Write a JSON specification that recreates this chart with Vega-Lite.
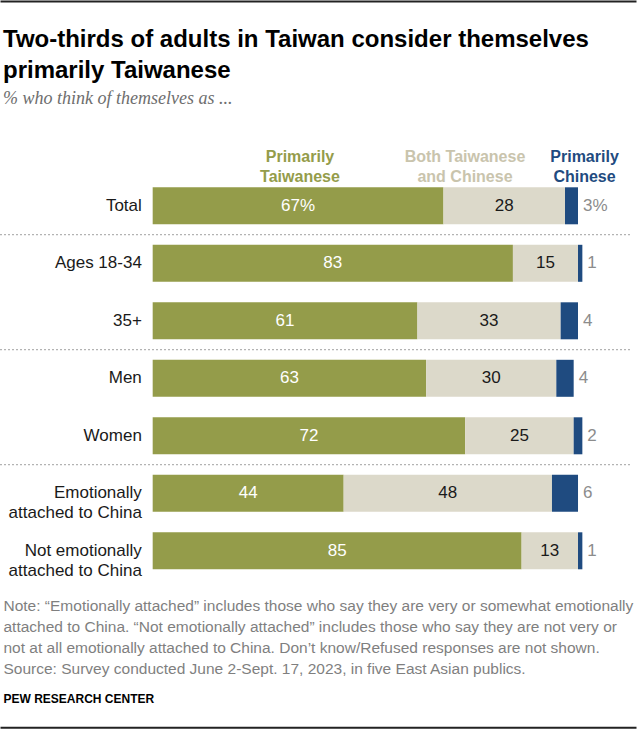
{
  "$schema": "https://vega.github.io/schema/vega-lite/v6.json",
  "width": 636,
  "height": 439.5,
  "autosize": "none",
  "padding": {"left": 0, "top": 129.8, "right": 4, "bottom": 161.7},
  "background": "white",
  "config": {"view": {"stroke": null}, "text": {"font": "Liberation Sans"}},
  "datasets": {
    "bars": [
      {"group": "Total", "cat": "Primarily Taiwanese", "value": 67, "label": "67%"},
      {"group": "Total", "cat": "Both Taiwanese and Chinese", "value": 28, "label": "28"},
      {"group": "Total", "cat": "Primarily Chinese", "value": 3, "label": "3%"},
      {"group": "Ages 18-34", "cat": "Primarily Taiwanese", "value": 83, "label": "83"},
      {"group": "Ages 18-34", "cat": "Both Taiwanese and Chinese", "value": 15, "label": "15"},
      {"group": "Ages 18-34", "cat": "Primarily Chinese", "value": 1, "label": "1"},
      {"group": "35+", "cat": "Primarily Taiwanese", "value": 61, "label": "61"},
      {"group": "35+", "cat": "Both Taiwanese and Chinese", "value": 33, "label": "33"},
      {"group": "35+", "cat": "Primarily Chinese", "value": 4, "label": "4"},
      {"group": "Men", "cat": "Primarily Taiwanese", "value": 63, "label": "63"},
      {"group": "Men", "cat": "Both Taiwanese and Chinese", "value": 30, "label": "30"},
      {"group": "Men", "cat": "Primarily Chinese", "value": 4, "label": "4"},
      {"group": "Women", "cat": "Primarily Taiwanese", "value": 72, "label": "72"},
      {"group": "Women", "cat": "Both Taiwanese and Chinese", "value": 25, "label": "25"},
      {"group": "Women", "cat": "Primarily Chinese", "value": 2, "label": "2"},
      {"group": "Emotionally attached to China", "cat": "Primarily Taiwanese", "value": 44, "label": "44"},
      {"group": "Emotionally attached to China", "cat": "Both Taiwanese and Chinese", "value": 48, "label": "48"},
      {"group": "Emotionally attached to China", "cat": "Primarily Chinese", "value": 6, "label": "6"},
      {"group": "Not emotionally attached to China", "cat": "Primarily Taiwanese", "value": 85, "label": "85"},
      {"group": "Not emotionally attached to China", "cat": "Both Taiwanese and Chinese", "value": 13, "label": "13"},
      {"group": "Not emotionally attached to China", "cat": "Primarily Chinese", "value": 1, "label": "1"}
    ],
    "rows": [
      {"group": "Total", "label": "Total"},
      {"group": "Ages 18-34", "label": "Ages 18-34"},
      {"group": "35+", "label": "35+"},
      {"group": "Men", "label": "Men"},
      {"group": "Women", "label": "Women"},
      {"group": "Emotionally attached to China", "label": "Emotionally\nattached to China"},
      {"group": "Not emotionally attached to China", "label": "Not emotionally\nattached to China"}
    ],
    "seps": [
      {"after": "Ages 18-34"},
      {"after": "Men"},
      {"after": "Emotionally attached to China"}
    ]
  },
  "title": {
    "text": ["Two-thirds of adults in Taiwan consider themselves", "primarily Taiwanese"],
    "subtitle": "% who think of themselves as ...",
    "anchor": "start",
    "frame": "group",
    "dx": 3,
    "offset": -107,
    "font": "Liberation Sans",
    "fontSize": 24,
    "fontWeight": "bold",
    "color": "#000000",
    "lineHeight": 31,
    "subtitleFont": "Liberation Serif",
    "subtitleFontStyle": "italic",
    "subtitleFontSize": 18,
    "subtitleColor": "#6e6e6e",
    "subtitlePadding": 7
  },
  "layer": [
    {
      "data": {"name": "bars"},
      "transform": [{"window": [{"op": "row_number", "as": "rank"}], "groupby": ["group"]}],
      "layer": [
        {
          "mark": {"type": "bar"},
          "encoding": {
            "x": {
              "field": "value", "type": "quantitative", "stack": "zero",
              "scale": {"domain": [-35.18, 111.36], "nice": false, "zero": false},
              "axis": {
                "orient": "bottom", "offset": 158, "domain": true, "domainColor": "#222222", "domainWidth": 2,
                "ticks": false, "labels": false, "grid": false,
                "title": [
                  "Note: “Emotionally attached” includes those who say they are very or somewhat emotionally",
                  "attached to China. “Not emotionally attached” includes those who say they are not very or",
                  "not at all emotionally attached to China. Don’t know/Refused responses are not shown.",
                  "Source: Survey conducted June 2-Sept. 17, 2023, in five East Asian publics."
                ],
                "titleX": 3, "titleY": -116.6, "titleAlign": "left", "titleAnchor": "start",
                "titleBaseline": "alphabetic", "titleFont": "Liberation Sans", "titleFontSize": 15.5,
                "titleFontWeight": "normal", "titleColor": "#7f7f7f", "titleLineHeight": 20.8
              }
            },
            "y": {
              "field": "group", "type": "nominal",
              "scale": {"domain": ["hdr", "Total", "Ages 18-34", "35+", "Men", "Women", "Emotionally attached to China", "Not emotionally attached to China"], "paddingInner": 0.3565, "paddingOuter": 0},
              "axis": {
                "orient": "left", "domain": false, "ticks": false, "labels": false, "grid": false,
                "title": "PEW RESEARCH CENTER", "titleAngle": 0, "titleAlign": "left", "titleBaseline": "alphabetic",
                "titleX": 3, "titleY": 572.2, "titleFont": "Liberation Sans", "titleFontSize": 12,
                "titleFontWeight": "bold", "titleColor": "#000000"
              }
            },
            "color": {
              "field": "cat", "type": "nominal",
              "scale": {"domain": ["Primarily Taiwanese", "Both Taiwanese and Chinese", "Primarily Chinese"], "range": ["#949c4a", "#dcd9ca", "#1f4b80"]},
              "legend": null
            },
            "order": {"field": "rank", "type": "quantitative"}
          }
        },
        {
          "mark": {"type": "text", "fontSize": 17, "baseline": "middle", "align": "center"},
          "encoding": {
            "x": {"field": "value", "type": "quantitative", "stack": "zero", "bandPosition": 0.5, "scale": {"domain": [-35.18, 111.36], "nice": false, "zero": false}},
            "y": {"field": "group", "type": "nominal", "scale": {"domain": ["hdr", "Total", "Ages 18-34", "35+", "Men", "Women", "Emotionally attached to China", "Not emotionally attached to China"], "paddingInner": 0.3565, "paddingOuter": 0}},
            "detail": {"field": "cat"},
            "order": {"field": "rank", "type": "quantitative"},
            "text": {"field": "label"},
            "color": {"condition": {"test": "datum.cat === 'Primarily Taiwanese'", "value": "#ffffff"}, "value": "#1a1a1a"},
            "opacity": {"condition": {"test": "datum.cat === 'Primarily Chinese'", "value": 0}, "value": 1}
          }
        },
        {
          "mark": {"type": "text", "fontSize": 17, "baseline": "middle", "align": "left", "dx": 5, "color": "#8c8c8c"},
          "encoding": {
            "x": {"field": "value", "type": "quantitative", "stack": "zero", "scale": {"domain": [-35.18, 111.36], "nice": false, "zero": false}},
            "y": {"field": "group", "type": "nominal", "scale": {"domain": ["hdr", "Total", "Ages 18-34", "35+", "Men", "Women", "Emotionally attached to China", "Not emotionally attached to China"], "paddingInner": 0.3565, "paddingOuter": 0}},
            "detail": {"field": "cat"},
            "order": {"field": "rank", "type": "quantitative"},
            "text": {"field": "label"},
            "opacity": {"condition": {"test": "datum.cat === 'Primarily Chinese'", "value": 1}, "value": 0}
          }
        },
        {
          "data": {"name": "rows"},
          "mark": {"type": "text", "align": "right", "baseline": "middle", "fontSize": 17, "lineBreak": "\n", "lineHeight": 20, "color": "#1a1a1a"},
          "encoding": {
            "x": {"datum": -2.5, "type": "quantitative", "scale": {"domain": [-35.18, 111.36], "nice": false, "zero": false}},
            "y": {"field": "group", "type": "nominal", "scale": {"domain": ["hdr", "Total", "Ages 18-34", "35+", "Men", "Women", "Emotionally attached to China", "Not emotionally attached to China"], "paddingInner": 0.3565, "paddingOuter": 0}},
            "text": {"field": "label"}
          }
        },
        {
          "data": {"values": [{}]},
          "mark": {"type": "text", "align": "center", "baseline": "middle", "fontSize": 16, "fontWeight": "bold", "lineBreak": "\n", "lineHeight": 20, "color": "#949c4a"},
          "encoding": {
            "x": {"datum": 33.94, "type": "quantitative", "scale": {"domain": [-35.18, 111.36], "nice": false, "zero": false}},
            "y": {"datum": "hdr", "type": "nominal", "bandPosition": 0.735, "scale": {"domain": ["hdr", "Total", "Ages 18-34", "35+", "Men", "Women", "Emotionally attached to China", "Not emotionally attached to China"], "paddingInner": 0.3565, "paddingOuter": 0}},
            "text": {"value": "Primarily\nTaiwanese"}
          }
        },
        {
          "data": {"values": [{}]},
          "mark": {"type": "text", "align": "center", "baseline": "middle", "fontSize": 16, "fontWeight": "bold", "lineBreak": "\n", "lineHeight": 20, "color": "#c9c4ad"},
          "encoding": {
            "x": {"datum": 71.96, "type": "quantitative", "scale": {"domain": [-35.18, 111.36], "nice": false, "zero": false}},
            "y": {"datum": "hdr", "type": "nominal", "bandPosition": 0.735, "scale": {"domain": ["hdr", "Total", "Ages 18-34", "35+", "Men", "Women", "Emotionally attached to China", "Not emotionally attached to China"], "paddingInner": 0.3565, "paddingOuter": 0}},
            "text": {"value": "Both Taiwanese\nand Chinese"}
          }
        },
        {
          "data": {"values": [{}]},
          "mark": {"type": "text", "align": "center", "baseline": "middle", "fontSize": 16, "fontWeight": "bold", "lineBreak": "\n", "lineHeight": 20, "color": "#1f4b80"},
          "encoding": {
            "x": {"datum": 99.5, "type": "quantitative", "scale": {"domain": [-35.18, 111.36], "nice": false, "zero": false}},
            "y": {"datum": "hdr", "type": "nominal", "bandPosition": 0.735, "scale": {"domain": ["hdr", "Total", "Ages 18-34", "35+", "Men", "Women", "Emotionally attached to China", "Not emotionally attached to China"], "paddingInner": 0.3565, "paddingOuter": 0}},
            "text": {"value": "Primarily\nChinese"}
          }
        }
      ]
    },
    {
      "data": {"name": "seps"},
      "mark": {"type": "rule", "color": "#b3b3b3", "strokeWidth": 1.3, "strokeDash": [2, 2]},
      "encoding": {
        "x": {
          "datum": -35.18, "type": "quantitative",
          "scale": {"domain": [-35.18, 111.36], "nice": false, "zero": false},
          "axis": {"orient": "top", "offset": 128.8, "domain": true, "domainColor": "#222222", "domainWidth": 2, "ticks": false, "labels": false, "grid": false, "title": null}
        },
        "x2": {"datum": 110},
        "y": {
          "field": "after", "type": "nominal", "bandPosition": -0.277,
          "scale": {"domain": ["hdr", "Total", "Ages 18-34", "35+", "Men", "Women", "Emotionally attached to China", "Not emotionally attached to China"], "paddingInner": 0.3565, "paddingOuter": 0},
          "axis": null
        }
      }
    }
  ],
  "resolve": {"scale": {"x": "independent", "y": "independent"}, "axis": {"x": "independent", "y": "independent"}}
}
